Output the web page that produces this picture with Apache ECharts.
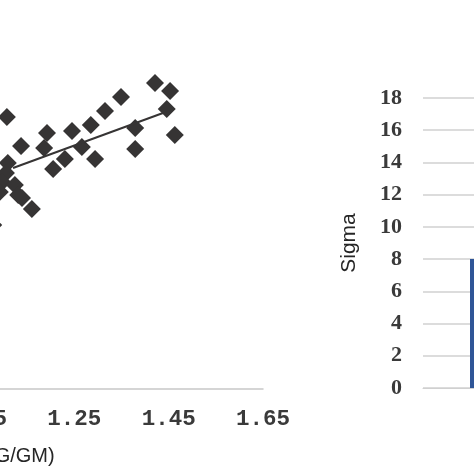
<!DOCTYPE html>
<html>
<head>
<meta charset="utf-8">
<script src="https://cdn.jsdelivr.net/npm/echarts@6.0.0/dist/echarts.min.js"></script>
<style>
	html, body { margin: 0; padding: 0; background: #fff; }
	#main { width: 474px; height: 474px; }
</style>
</head>
<body>
<div id="main"></div>
<script>
// left panel: scatter of sigma against (G/GM)
const scatterX = [1.421, 1.453, 1.349, 1.107, 1.315, 1.446, 1.285, 1.245, 1.192, 1.379,
	1.463, 1.137, 1.186, 1.266, 1.379, 1.230, 1.294, 1.205, 1.109, 1.105,
	1.097, 1.124, 1.131, 1.139, 1.160, 1.092, 1.078]
const scatterY = [20.45, 19.92, 19.52, 18.18, 18.58, 18.72, 17.65, 17.25, 17.11, 17.45,
	16.98, 16.24, 16.11, 16.18, 16.04, 15.37, 15.37, 14.71, 15.11, 14.44,
	13.84, 13.64, 12.97, 12.77, 12.03, 13.17, 10.96]
const trendX = [1.12, 1.438]
const trendY = [14.77, 18.45]
const xTicks = [1.05, 1.25, 1.45, 1.65]

// right panel: sigma bars (only the first one is in view)
const barCategories = ['1']
const barValues = [8]
const sigmaTicks = [0, 18, 2] // min, max, step

const dark = '#363434'
const chart = echarts.init(document.getElementById('main'))

chart.setOption({
	animation: false,
	grid: [
		{ left: -20, width: 283, top: 0, height: 389, outerBoundsMode: 'none', containLabel: false },
		{ left: 423, width: 134, top: 98, height: 290, outerBoundsMode: 'none', containLabel: false },
	],
	xAxis: [
		{
			gridIndex: 0, type: 'value',
			min: xTicks[0], max: xTicks[xTicks.length - 1], interval: xTicks[1] - xTicks[0],
			axisLine: { lineStyle: { color: '#c8c8c8', width: 1.5 } },
			axisTick: { show: false },
			splitLine: { show: false },
			axisLabel: {
				margin: 19, color: '#3a3a3a', fontSize: 22.5, fontWeight: 'bold',
				fontFamily: 'Liberation Mono', formatter: v => v.toFixed(2),
			},
		},
		{
			gridIndex: 1, type: 'category', data: barCategories,
			axisLine: { lineStyle: { color: '#d0d0d0' } },
			axisTick: { show: false },
			axisLabel: { show: false },
		},
	],
	yAxis: [
		{ gridIndex: 0, type: 'value', min: 0, max: 26, show: false },
		{
			gridIndex: 1, type: 'value',
			min: sigmaTicks[0], max: sigmaTicks[1], interval: sigmaTicks[2],
			name: 'Sigma', nameLocation: 'middle', nameGap: 63, nameRotate: 90,
			nameTextStyle: { fontFamily: 'Liberation Sans', fontSize: 21, color: '#262626' },
			axisLine: { show: false },
			axisTick: { show: false },
			splitLine: { lineStyle: { color: '#d0d0d0', width: 1.5 } },
			axisLabel: {
				margin: 21, color: '#3a3a3a', fontSize: 22, fontWeight: 'bold',
				fontFamily: 'Liberation Serif',
			},
		},
	],
	graphic: [{
		type: 'text', left: -12, top: 446,
		style: { text: '(G/GM)', font: '20px "Liberation Sans"', fill: '#262626' },
	}],
	series: [
		{
			type: 'scatter', xAxisIndex: 0, yAxisIndex: 0,
			symbol: 'diamond', symbolSize: 18,
			itemStyle: { color: dark, opacity: 1 },
			data: scatterX.map((x, i) => [x, scatterY[i]]),
			z: 3,
		},
		{
			type: 'line', xAxisIndex: 0, yAxisIndex: 0,
			showSymbol: false, symbol: 'none',
			lineStyle: { color: dark, width: 2 },
			data: trendX.map((x, i) => [x, trendY[i]]),
			z: 4,
		},
		{
			type: 'bar', xAxisIndex: 1, yAxisIndex: 1,
			barWidth: 40, itemStyle: { color: '#2f5597' },
			data: barValues,
		},
	],
})
</script>
</body>
</html>
